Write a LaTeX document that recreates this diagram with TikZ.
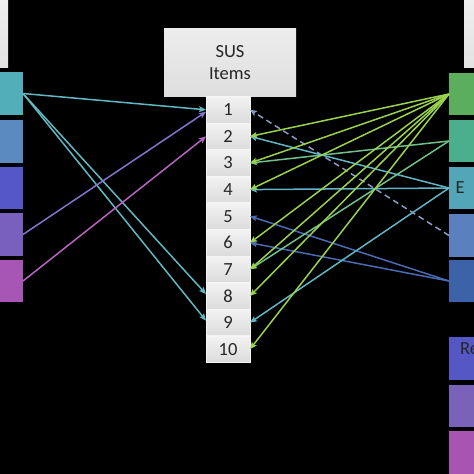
\documentclass[tikz,border=0pt]{standalone}
\usepackage{fontspec}
\setmainfont{Carlito}
\usetikzlibrary{arrows.meta}
\definecolor{cL1}{HTML}{52AEB9}
\definecolor{cL2}{HTML}{5A8AC0}
\definecolor{cL3}{HTML}{5556C7}
\definecolor{cL4}{HTML}{7A60BE}
\definecolor{cL5}{HTML}{A856B5}
\definecolor{cR1}{HTML}{5BAE5E}
\definecolor{cR2}{HTML}{4BAF8E}
\definecolor{cR3}{HTML}{52A6B8}
\definecolor{cR4}{HTML}{5A80BE}
\definecolor{cR5}{HTML}{3C62A8}
\definecolor{cR6}{HTML}{5457C4}
\definecolor{cR7}{HTML}{7A62BA}
\definecolor{cR8}{HTML}{A754B3}
\definecolor{lgreen}{HTML}{9AD24E}
\definecolor{lgreen2}{HTML}{6FC08A}
\definecolor{lteal}{HTML}{62B5C5}
\definecolor{lblue}{HTML}{4A6AB4}
\definecolor{ldash}{HTML}{8F9AC6}
\definecolor{lteal2}{HTML}{62B8C2}
\definecolor{lpurple}{HTML}{8474CC}
\definecolor{lmag}{HTML}{B865C0}
\definecolor{txt}{HTML}{262626}
\tikzset{
  cbox/.style={anchor=north west, inner sep=0pt, outer sep=0pt, minimum width=35pt, draw=none},
  itembox/.style={anchor=north west, inner sep=0pt, outer sep=0pt, minimum width=44pt, minimum height=26.6pt,
    top color=white!90!gray, bottom color=white!72!gray, draw=white!92!gray, line width=0.8pt,
    text=txt, font=\fontsize{18.5}{22}\selectfont},
  conn/.style={line width=1.5pt, -{Stealth[length=7pt,width=6pt,inset=1.5pt]}},
}
\begin{document}
\begin{tikzpicture}[x=1pt,y=-1pt]
\useasboundingbox (0,0) rectangle (474,474);
\clip (0,0) rectangle (474,474);
\fill[black] (0,0) rectangle (474,474);
% gray boxes at top
\node[cbox, minimum width=20pt, minimum height=77pt, top color=white!88!gray, bottom color=white!78!gray] (GL) at (-12,-10) {};
\node[cbox, minimum width=20pt, minimum height=77pt, top color=white!88!gray, bottom color=white!78!gray] (GR) at (464,-10) {};
% left boxes
\node[cbox, minimum height=43pt, fill=cL1] (L1) at (-12,72) {};
\node[cbox, minimum height=43pt, fill=cL2] (L2) at (-12,120) {};
\node[cbox, minimum height=42pt, fill=cL3] (L3) at (-12,167) {};
\node[cbox, minimum height=43pt, fill=cL4] (L4) at (-12,213) {};
\node[cbox, minimum height=42pt, fill=cL5] (L5) at (-12,260) {};
% right boxes
\node[cbox, minimum height=42pt, fill=cR1] (R1) at (449,73) {};
\node[cbox, minimum height=42pt, fill=cR2] (R2) at (449,120) {};
\node[cbox, minimum height=42pt, fill=cR3] (R3) at (449,167) {};
\node[cbox, minimum height=43pt, fill=cR4] (R4) at (449,214) {};
\node[cbox, minimum height=42pt, fill=cR5] (R5) at (449,260) {};
\node[cbox, minimum height=43pt, fill=cR6] (R6) at (449,337) {};
\node[cbox, minimum height=42pt, fill=cR7] (R7) at (449,385) {};
\node[cbox, minimum height=43pt, fill=cR8] (R8) at (449,431) {};
\node[anchor=base west, inner sep=0pt, text=txt, font=\fontsize{18.5}{22}\selectfont] (tE) at (455.5,193.5) {E};
\node[anchor=base west, inner sep=0pt, text=txt, font=\fontsize{18.5}{22}\selectfont] (tRe) at (460,354.5) {Re};
% header
\node[anchor=north west, inner sep=0pt, outer sep=0pt, minimum width=132pt, minimum height=68.5pt,
  top color=white!86!gray, bottom color=white!74!gray, text=txt, align=center,
  font=\fontsize{18.5}{22}\selectfont] (H) at (164,28) {SUS\\Items};
% items
\foreach \k in {1,...,10} {
  \node[itembox] (I\k) at (206,{96.5+26.6*(\k-1)}) {\k};
}
% left connectors
\draw[conn, lteal2] (L1.east) -- (I1.west);
\draw[conn, lteal2] (L1.east) -- ([yshift=2pt]I8.west);
\draw[conn, lteal2] (L1.east) -- ([yshift=2pt]I9.west);
\draw[conn, lpurple] (L4.east) -- ([yshift=-2pt]I1.west);
\draw[conn, lmag] (L5.east) -- (I2.west);
% right connectors
\draw[conn, ldash, dash pattern=on 6pt off 4pt] (R4.west) -- (I1.east);
\draw[conn, lblue] (R5.west) -- (I5.east);
\draw[conn, lblue] (R5.west) -- (I6.east);
\draw[conn, lteal] (R3.west) -- (I2.east);
\draw[conn, lteal] (R3.west) -- (I4.east);
\draw[conn, lteal] (R3.west) -- (I9.east);
\draw[conn, lgreen2] (R2.west) -- (I3.east);
\draw[conn, lgreen2] (R2.west) -- (I7.east);
\foreach \k in {2,3,4,6,7,8,10} {
  \draw[conn, lgreen] (R1.west) -- (I\k.east);
}
\end{tikzpicture}
\end{document}
